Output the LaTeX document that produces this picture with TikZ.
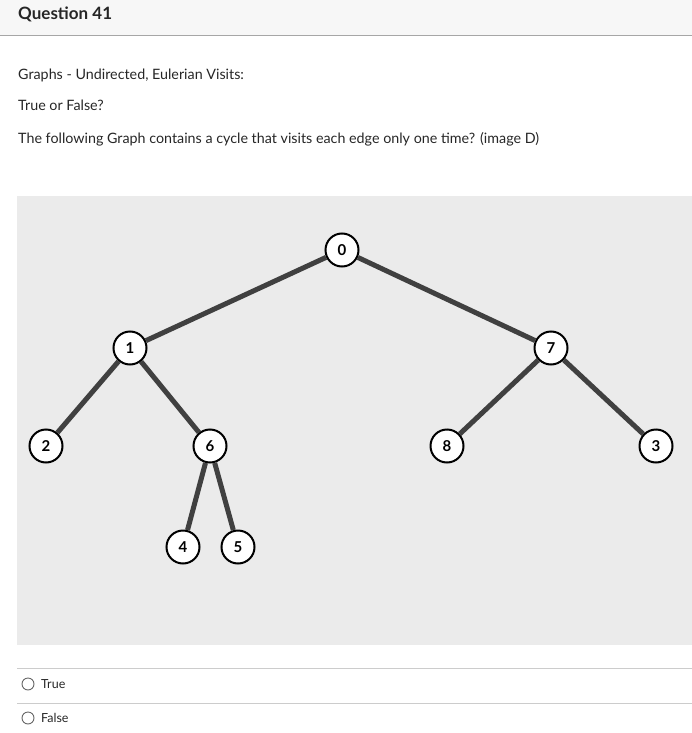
\documentclass[tikz,border=0pt]{standalone}
\usepackage{fontspec}
\setmainfont{Lato}
\begin{document}
\begin{tikzpicture}[x=1pt,y=-1pt,
  vert/.style={circle,draw=black,line width=2pt,fill=white,minimum size=33pt,inner sep=0pt,font=\fontsize{15}{15}\selectfont\bfseries},
  edge/.style={draw=black!75,line width=5pt},
  txt/.style={anchor=west,inner sep=0pt,font=\fontsize{14.3}{15}\selectfont,text=black!85},
  radio/.style={circle,draw=black!60,line width=0.9pt,minimum size=12pt,inner sep=0pt}]
\useasboundingbox (0,0) rectangle (692,733);
\fill[black!3] (0,0) rectangle (692,35);
\draw[black!35] (0,35) -- (692,35);
\node[txt,font=\fontsize{17}{17}\selectfont\bfseries] (q) at (18,14) {Question 41};
\node[txt] (t1) at (18,75) {Graphs - Undirected, Eulerian Visits:};
\node[txt] (t2) at (18,105) {True or False?};
\node[txt] (t3) at (18,139) {The following Graph contains a cycle that visits each edge only one time? (image D)};
\fill[black!8] (17,196) rectangle (692,645);
\node[vert] (n0) at (342,250) {0};
\node[vert] (n1) at (130,348) {1};
\node[vert] (n7) at (551,348) {7};
\node[vert] (n2) at (46,446) {2};
\node[vert] (n6) at (210,446) {6};
\node[vert] (n8) at (447,446) {8};
\node[vert] (n3) at (656,446) {3};
\node[vert] (n4) at (183,547) {4};
\node[vert] (n5) at (238,547) {5};
\foreach \a/\b in {n0/n1,n0/n7,n1/n2,n1/n6,n6/n4,n6/n5,n7/n8,n7/n3}
  \path[edge] (\a) -- (\b);
\draw[black!20] (17,668) -- (692,668);
\draw[black!20] (17,703) -- (692,703);
\node[radio] (r1) at (28,684) {};
\node[radio] (r2) at (28,718) {};
\node[txt,font=\fontsize{12.5}{13}\selectfont] (l1) at (41,684) {True};
\node[txt,font=\fontsize{12.5}{13}\selectfont] (l2) at (41,718) {False};
\end{tikzpicture}
\end{document}
